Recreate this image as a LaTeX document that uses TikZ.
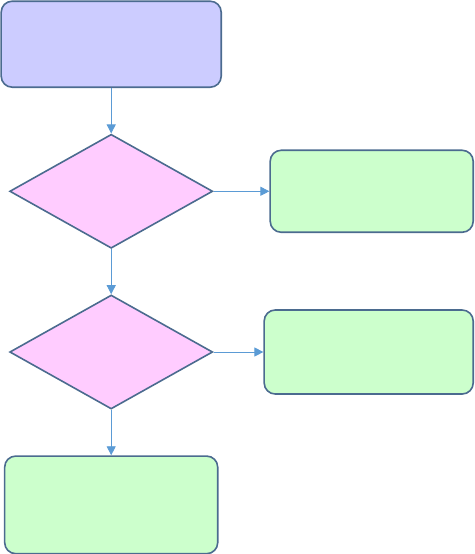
\documentclass[tikz,border=0pt]{standalone}
\usetikzlibrary{shapes.geometric,arrows.meta}
\definecolor{edgec}{HTML}{4B6B8F}
\definecolor{arrowc}{HTML}{5B9BD5}
\definecolor{bluefill}{HTML}{CCCCFF}
\definecolor{pinkfill}{HTML}{FFCCFF}
\definecolor{greenfill}{HTML}{CCFFCC}
\begin{document}
\begin{tikzpicture}[ampersand replacement=\&,
  box/.style={draw=edgec,line width=1.6pt,rounded corners=11pt,inner sep=0pt},
  test/.style={diamond,draw=edgec,line width=1.6pt,inner sep=0pt,aspect=1.78,
    minimum width=203pt,minimum height=114pt,fill=pinkfill},
  flow/.style={-{Triangle[length=9pt,width=9pt]},draw=arrowc,fill=arrowc,line width=0.9pt}]
\useasboundingbox (0,0) rectangle (474pt,-554pt);
\matrix[matrix anchor=north west,inner sep=0pt,row sep=45.8pt,column sep=41.4pt] at (0.2pt,-0.2pt)
{
  \node[box,fill=bluefill,minimum width=220pt,minimum height=86pt](s){}; \& \\
  \node[test](d1){}; \& \node[box,fill=greenfill,anchor=east,minimum width=203pt,minimum height=82pt](a1){}; \\
  \node[test](d2){}; \& \node[box,fill=greenfill,anchor=east,minimum width=209pt,minimum height=84pt](a2){}; \\
  \node[box,fill=greenfill,minimum width=213pt,minimum height=97.6pt](e){}; \& \\
};
\draw [flow] (s) -- (d1) ;
\draw [flow] (d1) -- (a1) ;
\draw [flow] (d1) -- (d2) ;
\draw [flow] (d2) -- (a2) ;
\draw [flow] (d2) -- (e) ;
\end{tikzpicture}
\end{document}
